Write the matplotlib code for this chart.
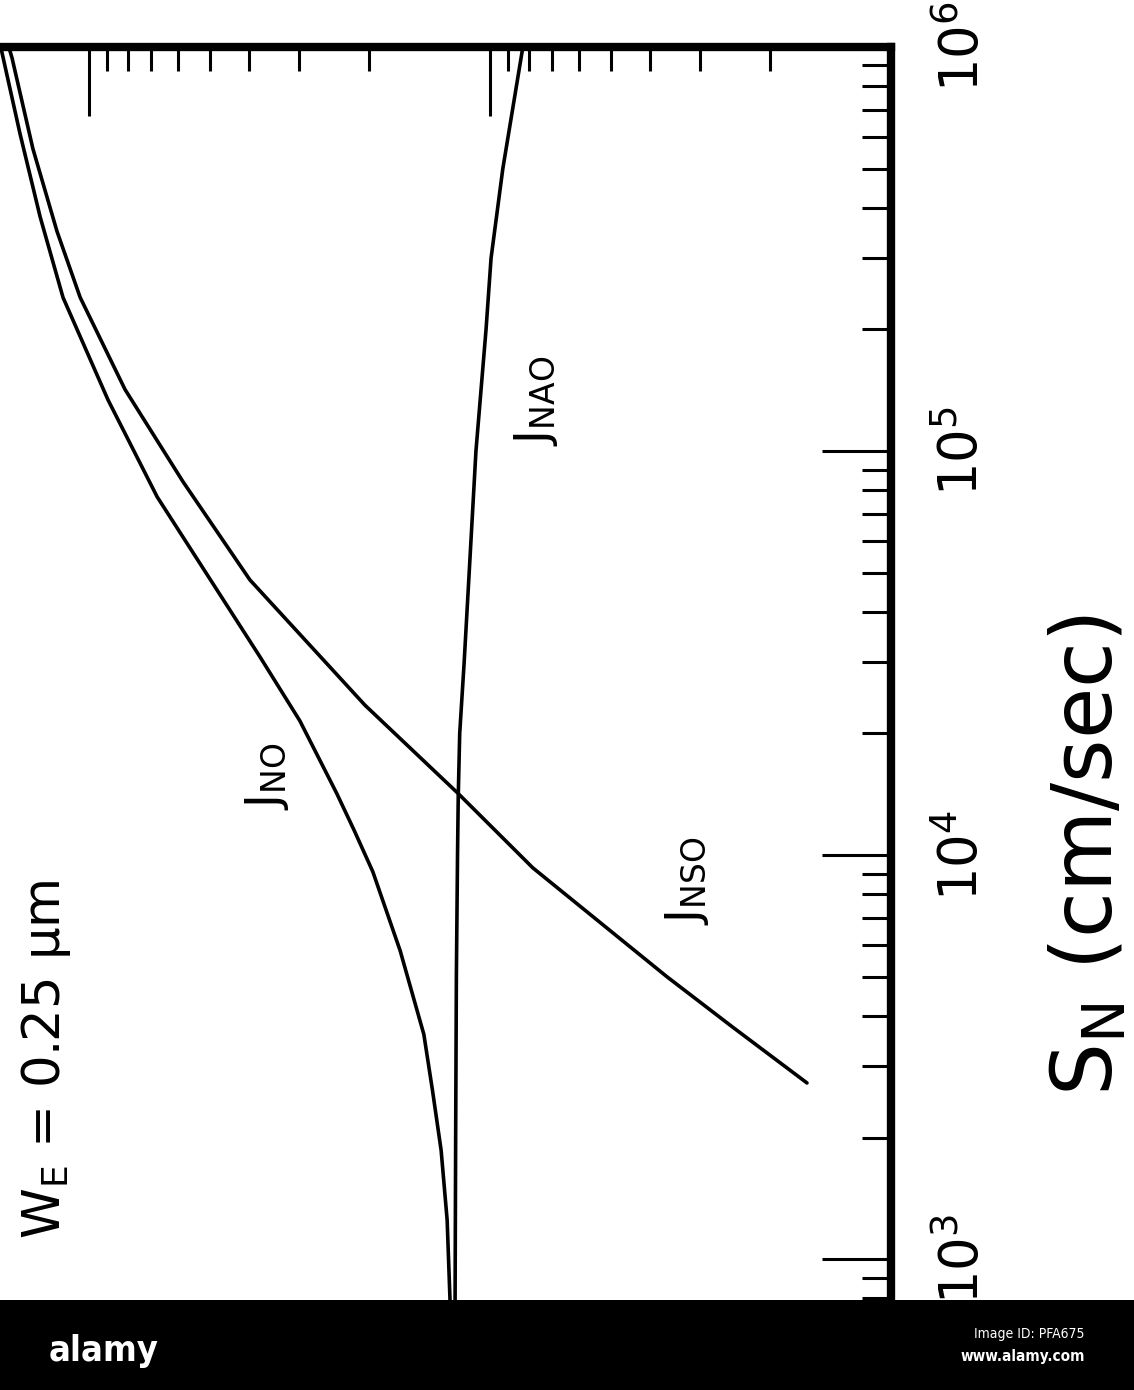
import matplotlib
matplotlib.use("Agg")
import matplotlib.pyplot as plt
from matplotlib.ticker import LogLocator, NullFormatter
from matplotlib.patches import Rectangle

# recombination velocity S_N (cm/sec) and current densities J
s_nao = [1e6, 5e5, 3e5, 2e5, 1e5, 5e4, 3e4, 2e4, 1.4e4, 1e4, 5e3, 2e3, 7.9e2]
j_nao = [8.28e-14, 9.29e-14, 9.94e-14, 1.023e-13, 1.084e-13, 1.127e-13, 1.16e-13,
         1.19e-13, 1.20e-13, 1.205e-13, 1.213e-13, 1.218e-13, 1.222e-13]

s_nso = [1e6, 9.4e5, 5.6e5, 3.5e5, 2.4e5, 1.42e5, 8.4e4, 4.8e4, 2.35e4, 1.42e4,
         9.3e3, 5.0e3, 3.75e3, 2.73e3]
j_nso = [1.585e-12, 1.556e-12, 1.38e-12, 1.202e-12, 1.052e-12, 8.13e-13, 5.83e-13,
         3.97e-13, 2.05e-13, 1.20e-13, 7.82e-14, 3.62e-14, 2.48e-14, 1.62e-14]

s_no = [1e6, 6.1e5, 3.8e5, 2.4e5, 1.34e5, 7.7e4, 3.1e4, 2.15e4, 1.42e4, 1.15e4,
        9.1e3, 5.8e3, 3.6e3, 2.6e3, 1.86e3, 1.25e3, 7.9e2]
j_no = [1.66e-12, 1.486e-12, 1.324e-12, 1.161e-12, 8.97e-13, 6.76e-13, 3.75e-13,
        2.98e-13, 2.41e-13, 2.18e-13, 1.96e-13, 1.675e-13, 1.462e-13, 1.39e-13,
        1.324e-13, 1.279e-13, 1.258e-13]

s_ticks = [1e3, 1e4, 1e5, 1e6]
s_tick_labels = [r"$\mathregular{10^{3}}$", r"$\mathregular{10^{4}}$",
                 r"$\mathregular{10^{5}}$", r"$\mathregular{10^{6}}$"]

W, H = 1134, 1390
fig = plt.figure(figsize=(W / 100, H / 100), dpi=100)
fig.patch.set_facecolor("white")

# the scan is turned on its side: J runs right-to-left, S_N runs upward
ax = fig.add_axes([0, 90 / H, 891 / W, (1300 - 47) / H])
ax.set_xscale("log")
ax.set_yscale("log")
ax.set_xlim(10 ** (-14 + 891 / 401), 1e-14)
ax.set_ylim(10 ** 2.899, 1e6)

for s, j in [(s_nao, j_nao), (s_nso, j_nso), (s_no, j_no)]:
    ax.plot(j, s, color="black", lw=2.6, solid_capstyle="round",
            solid_joinstyle="round")

ax.spines["left"].set_visible(False)
ax.spines["bottom"].set_visible(False)
ax.spines["top"].set_linewidth(6)
ax.spines["right"].set_linewidth(6)

ax.xaxis.set_ticks_position("top")
ax.yaxis.set_ticks_position("right")
ax.xaxis.set_major_locator(LogLocator(base=10, numticks=10))
ax.xaxis.set_minor_locator(LogLocator(base=10, subs=range(2, 10), numticks=20))
ax.xaxis.set_minor_formatter(NullFormatter())
ax.set_yticks(s_ticks, s_tick_labels)
ax.yaxis.set_minor_locator(LogLocator(base=10, subs=range(2, 10), numticks=20))
ax.yaxis.set_minor_formatter(NullFormatter())

ax.tick_params(axis="x", which="major", direction="in", length=50, width=2.2,
               labeltop=False, labelbottom=False)
ax.tick_params(axis="x", which="minor", direction="in", length=17, width=2.2)
ax.tick_params(axis="y", which="major", direction="in", length=50, width=2.2,
               labelright=True, labelleft=False, labelsize=38, labelrotation=90, pad=33)
ax.tick_params(axis="y", which="minor", direction="in", length=21, width=2.2)
for t in ax.get_yticklabels():
    t.set_va("center")

# curve labels and the width note
ax.text(7.67e-14, 1.33e5, r"$\mathregular{J_{NAO}}$", rotation=90, fontsize=34,
        ha="center", va="center")
ax.text(3.23e-14, 8.67e3, r"$\mathregular{J_{NSO}}$", rotation=90, fontsize=34,
        ha="center", va="center")
ax.text(3.6e-13, 1.57e4, r"$\mathregular{J_{NO}}$", rotation=90, fontsize=34,
        ha="center", va="center")
ax.text(1.28e-12, 3.13e3, r"$\mathregular{W_E}$ = 0.25 μm", rotation=90, fontsize=37,
        ha="center", va="center")

fig.text(1112 / W, 1 - 855 / H, r"$\mathregular{S_N}$ (cm/sec)", rotation=90,
         rotation_mode="anchor", ha="center", va="baseline", fontsize=60)

# stock-photo strip along the bottom
fig.patches.append(Rectangle((0, 0), 1, 90 / H, transform=fig.transFigure,
                             facecolor="black", edgecolor="none", zorder=10))
fig.text(49 / W, 1 - 1361 / H, "alamy", color="white", fontsize=26, weight="bold",
         fontstretch="condensed", zorder=11)
fig.text(1085 / W, 1 - 1334 / H, "Image ID: PFA675", color="white", fontsize=10,
         fontstretch="condensed", ha="right", va="center", zorder=11)
fig.text(1085 / W, 1 - 1356 / H, "www.alamy.com", color="white", fontsize=11,
         weight="bold", fontstretch="condensed", ha="right", va="center", zorder=11)

fig.savefig("out.png", dpi=100)
